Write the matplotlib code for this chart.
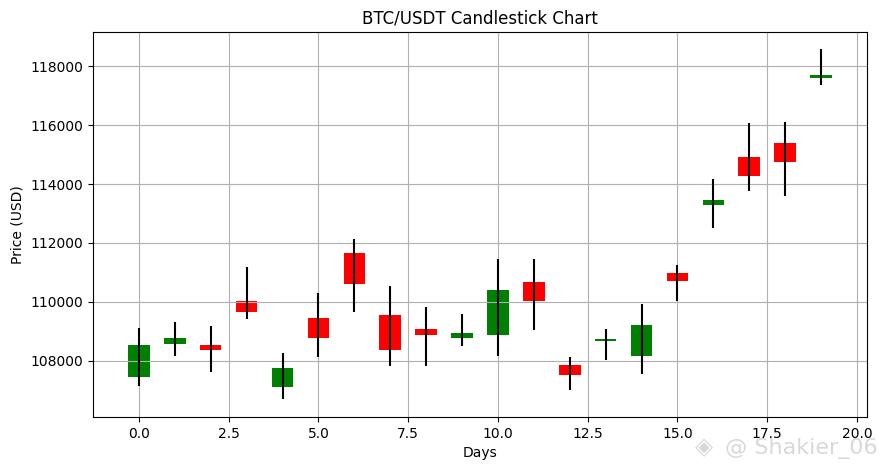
import numpy as np
import matplotlib
matplotlib.use('Agg')
import matplotlib.pyplot as plt

days = np.arange(20)
opens = [107433, 108577, 108521, 110014, 107094, 109437, 111644, 109562, 109087, 108781,
         108883, 110659, 107864, 108657, 108146, 110965, 113298, 114928, 115403, 117587]
closes = [108543, 108757, 108374, 109640, 107739, 108757, 110591, 108374, 108883, 108928,
          110411, 110014, 107501, 108747, 109223, 110693, 113443, 114259, 114758, 117713]
highs = [109111, 109324, 109189, 111192, 108260, 110309, 112133, 110547, 109834, 109596,
         111454, 111454, 108136, 109076, 109936, 111260, 114181, 116072, 116106, 118570]
lows = [107127, 108146, 107603, 109403, 106686, 108113, 109640, 107806, 107806, 108486,
        108146, 109030, 106991, 108010, 107535, 110038, 112493, 113750, 113580, 117349]

opens = np.array(opens)
closes = np.array(closes)
colors = ['green' if c >= o else 'red' for o, c in zip(opens, closes)]

fig, ax = plt.subplots(figsize=(8.82, 4.7), dpi=100)
fig.subplots_adjust(left=0.1054, right=0.983, bottom=0.1128, top=0.932)

ax.bar(days, np.abs(closes - opens), bottom=np.minimum(opens, closes), width=0.6, color=colors)
ax.vlines(days, lows, highs, color='black', linewidth=1.5)

ax.set_title('BTC/USDT Candlestick Chart')
ax.set_xlabel('Days')
ax.set_ylabel('Price (USD)')
ax.grid()

# watermark
fig.text(0.788, 0.035, '\u25c8', fontsize=17, color='gray', alpha=0.3)
fig.text(0.822, 0.035, '@ Shakier_06', fontsize=16, color='gray', alpha=0.3)

fig.savefig('out.png')
